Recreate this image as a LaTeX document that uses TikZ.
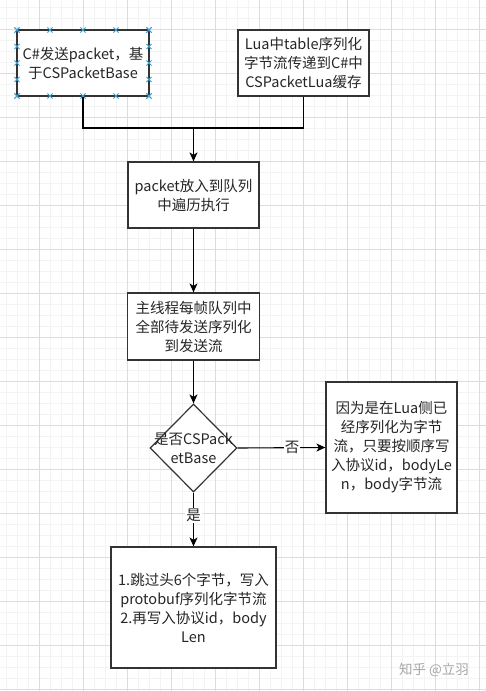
\documentclass[tikz,border=0pt]{standalone}
\usepackage{fontspec}
\setmainfont{Noto Sans CJK SC}
\usetikzlibrary{calc,arrows.meta,shapes.geometric,positioning,backgrounds}
\definecolor{boxline}{HTML}{333333}
\definecolor{handle}{HTML}{3A9FD6}
\definecolor{gridminor}{HTML}{F3F3F3}
\definecolor{gridmajor}{HTML}{DCDCDC}

\begin{document}
\begin{tikzpicture}[%
    x=1pt, y=-1pt,%
    every node/.style={font=\fontsize{14.5}{19}\selectfont, text=black!85},%
    flowbox/.style={draw=boxline, line width=1.2pt, fill=white, align=center, inner sep=0pt},%
    flowarrow/.style={-{Stealth[length=9pt, width=8pt, inset=2.5pt]}, line width=1.1pt},%
    flowline/.style={line width=1.1pt}%
  ]
  \useasboundingbox (0,0) rectangle (486,691);%

  %
  % Grille
  %
  \foreach \x in {6,17,...,486} {\draw[gridminor, line width=0.5pt] (\x,0) -- (\x,691);}%
  \foreach \y in {7,18,...,691} {\draw[gridminor, line width=0.5pt] (0,\y) -- (486,\y);}%
  \foreach \x in {39,83,...,486} {\draw[gridmajor, line width=0.6pt] (\x,0) -- (\x,691);}%
  \foreach \y in {29,73,...,691} {\draw[gridmajor, line width=0.6pt] (0,\y) -- (486,\y);}%

  %
  % Boites
  %
  \node[flowbox, minimum width=132pt, minimum height=66pt] (cs send) at (83,63)%
  {C\#发送packet，基\\于CSPacketBase};%
  \node[flowbox, minimum width=131pt, minimum height=66pt] (lua send) at (303.5,63)%
  {Lua中table序列化\\字节流传递到C\#中\\CSPacketLua缓存};%
  \node[flowbox, minimum width=131pt, minimum height=66pt] (queue) at (193.5,195)%
  {packet放入到队列\\中遍历执行};%
  \node[flowbox, minimum width=132pt, minimum height=67pt] (main loop) at (193.5,326.5)%
  {主线程每帧队列中\\全部待发送序列化\\到发送流};%
  \node[flowbox, diamond, minimum width=87pt, minimum height=88pt] (is base) at (193.5,448) {};%
  \node[align=center, inner sep=0pt] at (is base) {是否CSPack\\etBase};%
  \node[flowbox, minimum width=131pt, minimum height=131pt] (lua path) at (391.5,447.5)%
  {因为是在Lua侧已\\经序列化为字节\\流，只要按顺序写\\入协议id，bodyLe\\n，body字节流};%
  \node[flowbox, minimum width=165pt, minimum height=121pt] (base path) at (193.5,607.5)%
  {1.跳过头6个字节，写入\\protobuf序列化字节流\\2.再写入协议id，body\\Len};%

  % Poignees de selection
  \foreach \u in {0,0.25,0.5,0.75,1} {%
      \foreach \p in {(17+132*\u,30), (17+132*\u,96), (17,30+66*\u), (149,30+66*\u)} {%
          \path \p coordinate (h);%
          \draw[handle, line width=0.8pt] ($(h)+(-2.6,-2.6)$) -- ($(h)+(2.6,2.6)$) ($(h)+(-2.6,2.6)$) -- ($(h)+(2.6,-2.6)$);%
        }%
    }%

  %
  % Connexions
  %
  \coordinate (merge) at (193.5,128);%
  \draw[flowline] (cs send.south) |- (merge);%
  \draw[flowline] (lua send.south) |- (merge);%
  \draw[flowarrow] (merge) -- (queue.north);%
  \draw[flowarrow] (queue) -- (main loop);%
  \draw[flowarrow] (main loop) -- (is base);%
  \draw[flowarrow] (is base.east) -- (lua path.west)%
  node[pos=0.62, fill=white, inner sep=1pt] {否};%
  \draw[flowarrow] (is base.south) -- (base path.north)%
  node[pos=0.42, fill=white, inner sep=1pt] {是};%

  % Filigrane
  \node[text=black!35, font=\fontsize{13.5}{15}\selectfont] (mark) at (434,670) {知乎 @立羽};%
\end{tikzpicture}
\end{document}
